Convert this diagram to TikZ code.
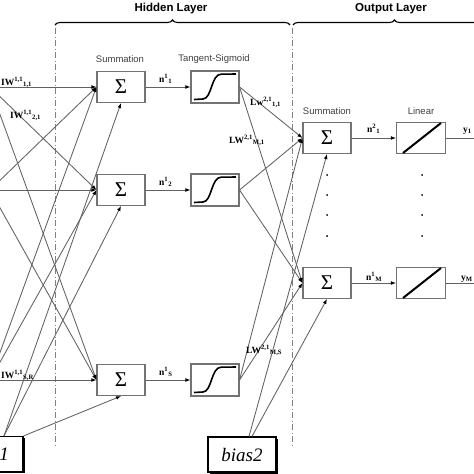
\documentclass[tikz,border=0pt]{standalone}
\usepackage{fontspec}
\setmainfont{Liberation Serif}
\newfontfamily\sansf{Liberation Sans}
\usetikzlibrary{arrows.meta,decorations.pathreplacing,shadows,calc}
\begin{document}
\begin{tikzpicture}[x=1pt,y=-1pt,
  box/.style={draw=black!55, line width=1.1pt, fill=white, minimum width=48pt, minimum height=31pt, inner sep=0pt},
  conn/.style={draw=black!62, line width=0.85pt, -{Latex[length=5pt,width=3.8pt,color=black]}},
  plainline/.style={draw=black!62, line width=0.85pt},
  captxt/.style={font=\sansf\fontsize{9.5}{10}\selectfont, text=black!75, inner sep=0pt},
  ttl/.style={font=\sansf\bfseries\fontsize{11.5}{12}\selectfont, inner sep=0pt},
  wlab/.style={font=\bfseries\fontsize{9.5}{10}\selectfont, anchor=base west, inner sep=0pt},
  biasbox/.style={draw=black, line width=1.2pt, fill=white, inner sep=0pt, minimum height=35pt,
     font=\itshape\fontsize{19}{20}\selectfont,
     drop shadow={shadow xshift=1.6pt, shadow yshift=-1.6pt, fill=black, opacity=1}},
  sepline/.style={draw=black!50, line width=0.8pt, dash pattern=on 6pt off 2.5pt on 1pt off 2.5pt},
  dotn/.style={circle, fill=black, inner sep=0pt, minimum size=2pt},
  sigm/.pic={\draw[line width=1.6pt] (-21,12.5) -- (-12,12) .. controls (-3,11.5) and (-4,-12.5) .. (6,-12.8) -- (21,-13);},
  linr/.pic={\draw[line width=2pt] (-18,15) -- (20,-15);}
]
\fill[white] (0,0) rectangle (474,474);
\useasboundingbox (0,0) rectangle (474,474);
\newcommand\sig{\fontsize{21}{21}\selectfont Σ}

% layer titles and braces
\node[ttl] (th) at (171,9) {Hidden Layer};
\node[ttl] (to) at (391,9) {Output Layer};
\draw[decorate, decoration={brace, amplitude=5pt}, line width=1.1pt] (55,25) -- (290,25);
\draw[decorate, decoration={brace, amplitude=5pt}, line width=1.1pt] (293,25) -- (496,25);

% separators
\draw[sepline] (55,28) -- (55,446);
\draw[sepline] (292,28) -- (292,446);

% inputs
\coordinate (in1) at (-10,87);
\coordinate (in2) at (-10,190);
\coordinate (inR) at (-10,380);

% hidden layer boxes
\node[box] (s1) at (121,87) {\sig};
\node[box] (s2) at (121,190) {\sig};
\node[box] (sS) at (121,380) {\sig};
\node[box, minimum height=32pt] (g1) at (215,87) {};
\node[box, minimum height=32pt] (g2) at (215,190) {};
\node[box, minimum height=32pt] (gS) at (215,380) {};
\pic at (g1) {sigm};
\pic at (g2) {sigm};
\pic at (gS) {sigm};

\node[captxt] (c1) at (120,59) {Summation};
\node[captxt] (c2) at (214,59) {Tangent-Sigmoid};

% output layer boxes
\node[box] (o1) at (327,138) {\sig};
\node[box] (oM) at (327,283) {\sig};
\node[box, minimum width=49pt] (l1) at (421,138) {};
\node[box, minimum width=49pt] (lM) at (421,283) {};
\pic at (l1) {linr};
\pic at (lM) {linr};
\node[captxt] (c3) at (327,111) {Summation};
\node[captxt] (c4) at (421,111) {Linear};

% dots
\foreach \yy in {175,195,215,236} {
  \node[dotn] at (327,\yy) {};
  \node[dotn] at (422,\yy) {};
}

% bias boxes
\node[biasbox, minimum width=38pt] (b1) at (4,454) {1};
\node[biasbox, minimum width=68pt] (b2) at (242,454.5) {bias2};

% input connections
\foreach \i in {in1,in2,inR} {
  \foreach \s in {s1,s2,sS} {
    \draw[conn] (\i) -- (\s.west);
  }
}
\draw[conn] (b1.north) -- (s1.south);
\draw[conn] (b1.north) -- (s2.south);
\draw[conn] (b1.north east) -- (sS.south);

% sum to sigmoid
\draw[conn] (s1) -- (g1);
\draw[conn] (s2) -- (g2);
\draw[conn] (sS) -- (gS);

% hidden to output
\foreach \g in {g1,g2,gS} {
  \draw[conn] (\g.east) -- (o1.west);
  \draw[conn] (\g.east) -- (oM.west);
}
\draw[conn] ([xshift=7pt]b2.north) -- (o1.south);
\draw[conn] ([xshift=10pt]b2.north) -- (oM.south);

% output
\draw[conn] (o1) -- (l1);
\draw[conn] (oM) -- (lM);
\coordinate (y1e) at (480,138);
\coordinate (yMe) at (480,283);
\draw[plainline] (l1.east) -- (y1e);
\draw[plainline] (lM.east) -- (yMe);

% labels
\node[wlab] (w11) at (1,85) {IW\textsuperscript{1,1}\textsubscript{1,1}};
\node[wlab] (w21) at (10,118) {IW\textsuperscript{1,1}\textsubscript{2,1}};
\node[wlab] (wSR) at (1,378) {IW\textsuperscript{1,1}\textsubscript{S,R}};
\node[wlab] (v11) at (250,105) {Lw\textsuperscript{2,1}\textsubscript{1,1}};
\node[wlab] (vM1) at (229,143) {LW\textsuperscript{2,1}\textsubscript{M,1}};
\node[wlab] (vMS) at (246,353) {LW\textsuperscript{2,1}\textsubscript{M,S}};
\node[wlab] (n1) at (159,82) {n\textsuperscript{1}\textsubscript{1}};
\node[wlab] (n2) at (159,185) {n\textsuperscript{1}\textsubscript{2}};
\node[wlab] (nS) at (159,375) {n\textsuperscript{1}\textsubscript{S}};
\node[wlab] (m1) at (367,132) {n\textsuperscript{2}\textsubscript{1}};
\node[wlab] (mM) at (366,280) {n\textsuperscript{1}\textsubscript{M}};
\node[wlab] (y1) at (463,132) {y\textsubscript{1}};
\node[wlab] (yM) at (461,280) {y\textsubscript{M}};
\end{tikzpicture}
\end{document}
